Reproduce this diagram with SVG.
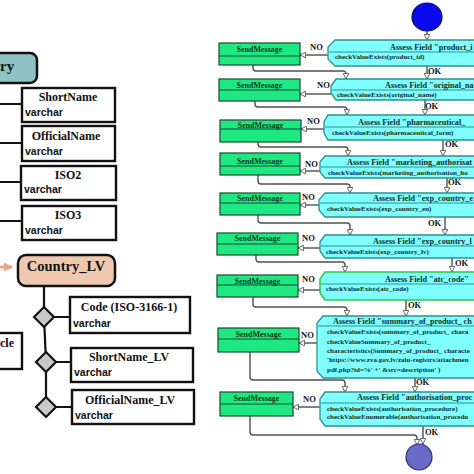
<svg xmlns="http://www.w3.org/2000/svg" width="474" height="474" viewBox="0 0 474 474">
<defs>
<marker id="ah" viewBox="0 0 10 10" refX="9" refY="5" markerWidth="7" markerHeight="7" markerUnits="userSpaceOnUse" orient="auto">
<path d="M1,1 L9,5 L1,9 z" fill="#fff" stroke="#555" stroke-width="1.3"/>
</marker>
<marker id="pa" viewBox="0 0 10 10" refX="9" refY="5" markerWidth="9" markerHeight="9" markerUnits="userSpaceOnUse" orient="auto">
<path d="M0,0 L10,5 L0,10 z" fill="#e8a888"/>
</marker>
</defs>
<style>
.er{fill:#fff;stroke:#111;stroke-width:2.4}
.ln{stroke:#111;stroke-width:2.2;fill:none}
.dm{fill:#c8c8c8;stroke:#111;stroke-width:2.2}
.t{font-family:"Liberation Serif","Times New Roman",serif;font-weight:bold;font-size:12px;fill:#111;text-anchor:middle}
.v{font-family:"Liberation Sans",Arial,sans-serif;font-weight:bold;font-size:10.5px;fill:#111}
.as{fill:#80ffff;stroke:#2f8f8f;stroke-width:1.3}
.dv{stroke:#2f8f8f;stroke-width:1}
.sm{fill:#1ee882;stroke:#1a4a2a;stroke-width:1.2}
.smd{stroke:#1a4a2a;stroke-width:1}
.ft{font-family:"Liberation Serif","Times New Roman",serif;font-weight:bold;font-size:8.2px;fill:#103030}
.fm{font-family:"Liberation Serif","Times New Roman",serif;font-weight:bold;font-size:7px;fill:#103030}
.st{font-family:"Liberation Serif","Times New Roman",serif;font-weight:bold;font-size:8px;fill:#0a3a1a;text-anchor:middle}
.lb{font-family:"Liberation Serif","Times New Roman",serif;font-weight:bold;font-size:8.5px;fill:#111}
.c{stroke:#505050;stroke-width:1.4;fill:none;marker-end:url(#ah)}
</style>

<!-- ER part -->
<g id="er-connectors">
<path class="ln" d="M0,104 H22 M0,143 H22 M0,182 H21 M0,221 H22"/>
<path class="ln" d="M44,286 L44,317 L46,362 L46,407"/>
<path class="ln" d="M54,317 H70 M56,362 H71 M56,407 H72"/>
<path d="M0,267 H12" stroke="#e8a888" stroke-width="3" fill="none" marker-end="url(#pa)"/>
</g>
<g id="country">
<rect x="-12" y="53" width="49" height="30" rx="7" fill="#8fc3c3" stroke="#111" stroke-width="2.5"/>
<text x="0" y="71" class="t" style="font-size:15px;text-anchor:start">ry</text>
</g>
<g id="shortname"><rect class="er" x="22" y="88" width="93" height="34"/><text class="t" x="68" y="101">ShortName</text><text class="v" x="25" y="116">varchar</text></g>
<g id="officialname"><rect class="er" x="22" y="126" width="93" height="35"/><text class="t" x="66" y="140">OfficialName</text><text class="v" x="25" y="155">varchar</text></g>
<g id="iso2"><rect class="er" x="21" y="166" width="95" height="34"/><text class="t" x="68" y="179">ISO2</text><text class="v" x="24" y="193">varchar</text></g>
<g id="iso3"><rect class="er" x="22" y="206" width="94" height="34"/><text class="t" x="68" y="219">ISO3</text><text class="v" x="25" y="234">varchar</text></g>
<g id="country_lv">
<rect x="18" y="255" width="97" height="31" rx="8" fill="#f0c8b0" stroke="#111" stroke-width="2.5"/>
<text class="t" x="66" y="271" style="font-size:14.5px">Country_LV</text>
</g>
<g id="article"><rect class="er" x="-12" y="333" width="34" height="36"/><text class="t" x="0" y="347" style="text-anchor:start">cle</text></g>
<g id="d1"><polygon class="dm" points="44,307 54,317 44,327 34,317"/></g>
<g id="d2"><polygon class="dm" points="46,352 56,362 46,372 36,362"/></g>
<g id="d3"><polygon class="dm" points="46,397 56,407 46,417 36,407"/></g>
<g id="code"><rect class="er" x="70" y="297" width="120" height="36"/><text class="t" x="129" y="311">Code (ISO-3166-1)</text><text class="v" x="73" y="327">varchar</text></g>
<g id="shortname_lv"><rect class="er" x="71" y="348" width="122" height="34"/><text class="t" x="129" y="361">ShortName_LV</text><text class="v" x="74" y="376">varchar</text></g>
<g id="officialname_lv"><rect class="er" x="72" y="390" width="122" height="34"/><text class="t" x="130" y="404">OfficialName_LV</text><text class="v" x="75" y="419">varchar</text></g>

<!-- Flowchart -->
<g id="flow-connectors">
<path class="c" d="M427,31 V40"/>
<path class="c" d="M427,66 V79"/>
<path class="c" d="M425,100 V115"/>
<path class="c" d="M443,140 V156"/>
<path class="c" d="M447,178 V193"/>
<path class="c" d="M445,217 V235"/>
<path class="c" d="M452,258 V272"/>
<path class="c" d="M406,300 V316"/>
<path class="c" d="M415,378 V392"/>
<path class="c" d="M423,426 V444"/>
<path class="c" d="M328,55 H300"/>
<path class="c" d="M331,94 H300"/>
<path class="c" d="M324,129 H301"/>
<path class="c" d="M320,171 H300"/>
<path class="c" d="M319,205 H300"/>
<path class="c" d="M320,248 H298"/>
<path class="c" d="M320,290 H298"/>
<path class="c" d="M317,343 H299"/>
<path class="c" d="M320,407 H293"/>
<path class="c" d="M253,65 V68 Q253,71 256,71 H343 Q346,71 346,74 V79"/>
<path class="c" d="M255,101 V104 Q255,107 258,107 H344 Q347,107 347,110 V115"/>
<path class="c" d="M258,142 V144 Q258,147 261,147 H345 Q348,147 348,150 V156"/>
<path class="c" d="M258,175 V181 Q258,184 261,184 H347 Q350,184 350,187 V193"/>
<path class="c" d="M258,215 V220 Q258,223 261,223 H347 Q350,223 350,226 V235"/>
<path class="c" d="M256,255 V259 Q256,262 259,262 H342 Q345,262 345,265 V272"/>
<path class="c" d="M253,297 V304 Q253,307 256,307 H344 Q347,307 347,310 V316"/>
<path class="c" d="M250,352 V377 Q250,380 253,380 H342 Q345,380 345,383 V392"/>
<path class="c" d="M250,416 V432 Q250,435 253,435 H414 Q417,435 417,438 V445"/>
<g class="lb">
<text x="428" y="74">OK</text><text x="425" y="109">OK</text><text x="445" y="147">OK</text><text x="448" y="185">OK</text><text x="428" y="226">OK</text><text x="455" y="266">OK</text><text x="408" y="308">OK</text><text x="416" y="385">OK</text><text x="425" y="435">OK</text>
<text x="310" y="50">NO</text><text x="317" y="88">NO</text><text x="307" y="124">NO</text><text x="305" y="167">NO</text><text x="302" y="200">NO</text><text x="302" y="241">NO</text><text x="302" y="282">NO</text><text x="301" y="338">NO</text><text x="303" y="402">NO</text>
</g>
</g>

<g id="start"><ellipse cx="427" cy="17" rx="15" ry="14" fill="#0a0aee" stroke="#101060" stroke-width="1.2"/></g>
<g id="end"><circle cx="419" cy="457" r="13" fill="#6a6ac8" stroke="#303070" stroke-width="1.2"/></g>

<g id="a1"><polygon class="as" points="335,40 480,40 480,66 335,66 328,59 328,47"/><line class="dv" x1="329" y1="52" x2="480" y2="52"/><text class="ft" x="390" y="50">Assess Field "product_i</text><text class="fm" x="335" y="58.5">checkValueExists(product_id)</text></g>
<g id="a2"><polygon class="as" points="336,79 480,79 480,100 336,100 331,93 331,86"/><line class="dv" x1="332" y1="90" x2="480" y2="90"/><text class="ft" x="385" y="88">Assess Field "original_na</text><text class="fm" x="337" y="96.5">checkValueExists(original_name)</text></g>
<g id="a3"><polygon class="as" points="328,115 480,115 480,140 328,140 324,133 324,122"/><line class="dv" x1="325" y1="127" x2="480" y2="127"/><text class="ft" x="358" y="124.5">Assess Field "pharmaceutical_</text><text class="fm" x="332" y="134.5">checkValueExists(pharmaceutical_form)</text></g>
<g id="a4"><polygon class="as" points="325,156 480,156 480,178 325,178 320,172 320,162"/><line class="dv" x1="321" y1="167" x2="480" y2="167"/><text class="ft" x="347" y="164.5">Assess Field "marketing_authorisat</text><text class="fm" x="328" y="174.5">checkValueExists(marketing_authorisation_ho</text></g>
<g id="a5"><polygon class="as" points="325,193 480,193 480,217 325,217 319,210 319,200"/><line class="dv" x1="320" y1="203" x2="480" y2="203"/><text class="ft" x="373" y="200.5">Assess Field "exp_country_e</text><text class="fm" x="327" y="210.5">checkValueExists(exp_country_en)</text></g>
<g id="a6"><polygon class="as" points="325,235 480,235 480,258 325,258 320,251 320,242"/><line class="dv" x1="321" y1="246" x2="480" y2="246"/><text class="ft" x="373" y="243.5">Assess Field "exp_country_l</text><text class="fm" x="326" y="253.5">checkValueExists(exp_country_lv)</text></g>
<g id="a7"><polygon class="as" style="stroke:#2ec84a;stroke-width:1.6" points="325,272 480,272 480,300 325,300 320,293 320,279"/><line class="dv" x1="321" y1="284" x2="480" y2="284"/><text class="ft" x="385" y="281.5">Assess Field "atc_code"</text><text class="fm" x="326" y="290.5">checkValueExists(atc_code)</text></g>
<g id="a8"><polygon class="as" points="323,316 480,316 480,378 323,378 317,371 317,323"/><line class="dv" x1="318" y1="326" x2="480" y2="326"/><text class="ft" x="333" y="323.5">Assess Field "summary_of_product_ ch</text>
<text class="fm" x="327" y="333.5">checkValueExists(summary_of_product_ chara</text>
<text class="fm" x="327" y="343.5">checkValueSummary_of_product_</text>
<text class="fm" x="327" y="352.5">characteristics(Summary_of_product_ characte</text>
<text class="fm" x="327" y="361.5">'https://www.zva.gov.lv/zalu-registrs/attachmen</text>
<text class="fm" x="327" y="371.5">pdf.php?id=%' +' &amp;src=description' )</text></g>
<g id="a9"><polygon class="as" points="325,392 480,392 480,426 325,426 320,419 320,399"/><line class="dv" x1="321" y1="403" x2="480" y2="403"/><text class="ft" x="357" y="399.5">Assess Field "authorisation_proc</text><text class="fm" x="327" y="410.5">checkValueExists(authorisation_procedure)</text><text class="fm" x="327" y="418.5">checkValueEnumerable(authorisation_procedu</text></g>

<g id="s1"><rect class="sm" x="219" y="43" width="81" height="22"/><line class="smd" x1="219" y1="56" x2="300" y2="56"/><text class="st" x="259.5" y="52">SendMessage</text></g>
<g id="s2"><rect class="sm" x="219" y="79" width="81" height="22"/><line class="smd" x1="219" y1="90" x2="300" y2="90"/><text class="st" x="259.5" y="88">SendMessage</text></g>
<g id="s3"><rect class="sm" x="220" y="120" width="81" height="22"/><line class="smd" x1="220" y1="129" x2="301" y2="129"/><text class="st" x="260.5" y="128">SendMessage</text></g>
<g id="s4"><rect class="sm" x="220" y="153" width="80" height="22"/><line class="smd" x1="220" y1="166" x2="300" y2="166"/><text class="st" x="260" y="164">SendMessage</text></g>
<g id="s5"><rect class="sm" x="220" y="193" width="80" height="22"/><line class="smd" x1="220" y1="203" x2="300" y2="203"/><text class="st" x="260" y="201">SendMessage</text></g>
<g id="s6"><rect class="sm" x="217" y="233" width="81" height="22"/><line class="smd" x1="217" y1="244" x2="298" y2="244"/><text class="st" x="257.5" y="241">SendMessage</text></g>
<g id="s7"><rect class="sm" x="217" y="275" width="81" height="22"/><line class="smd" x1="217" y1="285" x2="298" y2="285"/><text class="st" x="257.5" y="284">SendMessage</text></g>
<g id="s8"><rect class="sm" x="218" y="328" width="81" height="24"/><line class="smd" x1="218" y1="339" x2="299" y2="339"/><text class="st" x="258.5" y="337">SendMessage</text></g>
<g id="s9"><rect class="sm" x="220" y="392" width="73" height="24"/><line class="smd" x1="220" y1="404" x2="293" y2="404"/><text class="st" x="256.5" y="401">SendMessage</text></g>
</svg>
